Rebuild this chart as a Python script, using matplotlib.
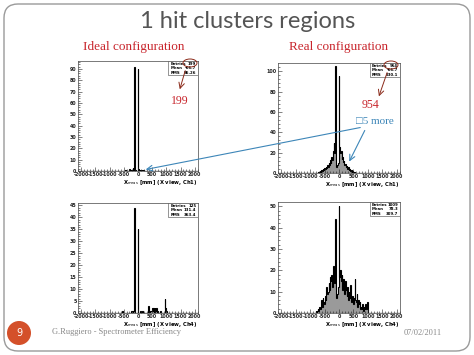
import matplotlib.pyplot as plt
import numpy as np
from matplotlib.patches import Ellipse, FancyBboxPatch, Circle, Rectangle

plt.rcParams['axes.unicode_minus'] = False

# --- histogram contents (bin centre [mm] -> entries), bin width 25 mm ---
h1_x = [-450, -300, -275, -225, -175, -125, -100, 0, 25, 75, 125, 200]
h1_y = [1, 2, 1, 1, 3, 92, 1, 90, 2, 1, 1, 1]

h2_x = [-700, -675, -650, -625, -600, -575, -550, -525, -500, -475, -450, -425,
        -400, -375, -350, -325, -300, -275, -250, -225, -200, -175, -150, -125,
        -100, -75, -50, -25, 0, 25, 50, 75, 100, 125, 150, 175, 200, 225, 250,
        275, 300, 325, 350, 375, 400, 425, 450, 475, 500, 525]
h2_y = [1, 1, 2, 1, 3, 2, 4, 3, 5, 4, 6, 5,
        8, 6, 10, 8, 13, 10, 16, 13, 22, 29, 20, 105,
        12, 6, 8, 10, 95, 26, 20, 22, 14, 16, 11, 12, 8, 9, 6,
        7, 4, 6, 3, 4, 2, 3, 1, 2, 1, 1]

h3_x = [-550, -250, -225, -200, -150, -125, 0, 75, 100, 150, 375, 425, 450, 475,
        500, 525, 550, 600, 625, 650, 700, 800, 950, 975, 1000]
h3_y = [1, 1, 1, 1, 1, 44, 35, 1, 1, 1, 3, 1, 1, 1,
        2, 1, 2, 2, 1, 2, 1, 1, 6, 2, 1]

h4_x = [-800, -750, -725, -700, -675, -650, -625, -600, -575, -550, -525, -500,
        -475, -450, -425, -400, -375, -350, -325, -300, -275, -250, -225, -200,
        -175, -150, -125, -100, -75, -50, -25, 0, 25, 50, 75, 100, 125, 150, 175,
        200, 225, 250, 275, 300, 325, 350, 375, 400, 425, 450, 475, 500, 525, 550,
        575, 600, 625, 650, 675, 700, 725, 750, 775, 800, 825, 850, 875, 900, 925,
        950, 975, 1000]
h4_y = [1, 1, 2, 1, 3, 2, 4, 6, 3, 7, 5, 4,
        8, 6, 12, 9, 10, 14, 11, 17, 15, 18, 12, 22,
        17, 14, 44, 10, 7, 9, 12, 50, 17, 20, 15, 18, 11, 16, 14,
        9, 15, 11, 8, 12, 6, 10, 7, 13, 5, 6, 8, 4, 7, 16,
        6, 5, 9, 3, 6, 4, 5, 2, 3, 2, 4, 1, 3, 2, 4,
        2, 5, 1]

stats = [("199", "-66.7", "86.26"), ("954", "-66.7", "230.1"),
         ("125", "131.4", "363.4"), ("1009", "78.3", "309.7")]
channels = ["Ch1", "Ch1", "Ch4", "Ch4"]
ymax = [97, 108, 46, 52]
ystep = [10, 20, 5, 10]

W, H = 474, 355
fig = plt.figure(figsize=(W / 100, H / 100), dpi=100)

def px(x0, y0, x1, y1):
    return [x0 / W, 1 - y1 / H, (x1 - x0) / W, (y1 - y0) / H]

boxes = [px(78, 61, 198, 171), px(278, 63, 400, 173),
         px(78, 203, 198, 313), px(278, 202, 400, 313)]
data = [(h1_x, h1_y), (h2_x, h2_y), (h3_x, h3_y), (h4_x, h4_y)]
edges = np.arange(-2112.5, 2113, 25)

for i, (rect, (hx, hy)) in enumerate(zip(boxes, data)):
    ax = fig.add_axes(rect)
    ax.hist(hx, bins=edges, weights=hy, histtype='stepfilled', fc='#9a9a9a',
            ec='black', lw=0.8)
    ax.set_xlim(-2112.5, 2112.5)
    ax.set_ylim(0, ymax[i])
    ax.set_xticks(np.arange(-2000, 2001, 500))
    ax.set_xticks(np.arange(-2100, 2101, 100), minor=True)
    ax.set_yticks(np.arange(0, ymax[i], ystep[i]))
    ax.set_yticks(np.arange(0, ymax[i], ystep[i] / 5), minor=True)
    ax.tick_params(which='both', direction='in', labelsize=3.4, pad=1,
                   width=0.4, colors='#222222')
    ax.tick_params(which='major', length=3)
    ax.tick_params(which='minor', length=1.5)
    for lab in ax.get_xticklabels() + ax.get_yticklabels():
        lab.set_fontweight('bold')
    for s in ax.spines.values():
        s.set_linewidth(0.5)
        s.set_color('#444444')
    ax.set_xlabel(r"X$_{\rm meas}$ [mm] (X view, %s)" % channels[i],
                  fontsize=3.8, labelpad=0.5, loc='right', fontweight='bold')
    # stats box
    ax.add_patch(Rectangle((0.75, 0.87), 0.25, 0.13, transform=ax.transAxes,
                           fc='white', ec='#444444', lw=0.4, zorder=5))
    for k, (lab, val) in enumerate(zip(["Entries", "Mean", "RMS"], stats[i])):
        yy = 0.975 - k * 0.042
        ax.text(0.77, yy, lab, transform=ax.transAxes, fontsize=2.8,
                va='center', fontweight='bold', zorder=6)
        ax.text(0.985, yy, val, transform=ax.transAxes, fontsize=2.8,
                va='center', ha='right', fontweight='bold', zorder=6)

# overlay for slide decoration
ov = fig.add_axes([0, 0, 1, 1])
ov.set_xlim(0, W)
ov.set_ylim(H, 0)
ov.axis('off')
ov.add_patch(FancyBboxPatch((4, 4), W - 8, H - 8, boxstyle="round,pad=0,rounding_size=14",
                            fc='none', ec='#9a9a9a', lw=1.0))
ov.text(248, 22, "1 hit clusters regions", fontsize=17, color='#555555',
        ha='center', va='center', family='Lato')
red = '#c8252c'
ov.text(134, 47, "Ideal configuration", fontsize=9.5, color=red,
        ha='center', va='center', family='Liberation Serif')
ov.text(339, 47, "Real configuration", fontsize=9.5, color=red,
        ha='center', va='center', family='Liberation Serif')

# red marks
ov.add_patch(Ellipse((190, 63), 14, 8, fc='none', ec='#8b2a1a', lw=0.7))
ov.annotate("", xy=(179, 92), xytext=(186, 68),
            arrowprops=dict(arrowstyle='->', color='#8b2a1a', lw=0.7))
ov.text(180, 101, "199", fontsize=8.5, color=red, ha='center', va='center',
        family='Liberation Serif')
ov.add_patch(Ellipse((391, 65), 14, 8, fc='none', ec='#8b2a1a', lw=0.7))
ov.annotate("", xy=(378, 99), xytext=(388, 70),
            arrowprops=dict(arrowstyle='->', color='#8b2a1a', lw=0.7))
ov.text(371, 105, "954", fontsize=8.5, color=red, ha='center', va='center',
        family='Liberation Serif')

# blue marks
blue = '#3d86b8'
ov.text(356, 121, "\u25a15 more", fontsize=8, color=blue, ha='left', va='center',
        family=['Liberation Serif', 'DejaVu Sans'])
ov.annotate("", xy=(143, 170), xytext=(363, 127),
            arrowprops=dict(arrowstyle='->', color=blue, lw=0.8))
ov.annotate("", xy=(348, 164), xytext=(366, 128),
            arrowprops=dict(arrowstyle='->', color=blue, lw=0.8))

# footer
ov.add_patch(Circle((19, 333), 12, fc='#d4502a', ec='none'))
ov.text(19, 333, "9", fontsize=7, color='white', ha='center', va='center')
ov.text(52, 332, "G.Ruggiero - Spectrometer Efficiency", fontsize=6,
        color='#888888', ha='left', va='center', family='Liberation Serif')
ov.text(442, 333, "07/02/2011", fontsize=6, color='#888888', ha='right',
        va='center', family='Liberation Serif')

fig.savefig('out.png', dpi=100)
